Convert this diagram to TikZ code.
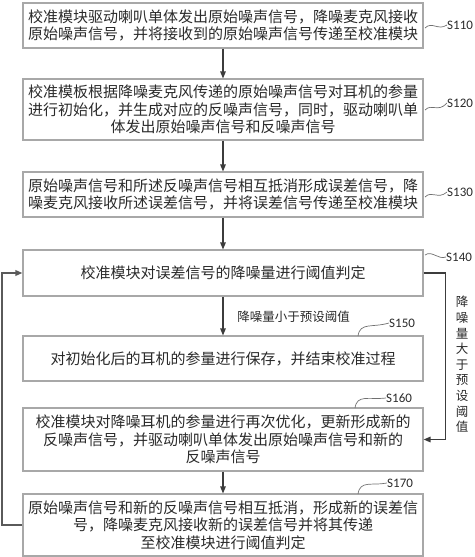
\documentclass[tikz,border=0pt]{standalone}
\usepackage{fontspec}
\usetikzlibrary{arrows.meta}
\newfontfamily\cjk{Noto Sans CJK SC}
\newfontfamily\labfont{Carlito}
\definecolor{boxgray}{HTML}{A8A8A8}
\definecolor{txt}{HTML}{2A2A2A}
\definecolor{linegray}{HTML}{3C3C3C}
\definecolor{loopgray}{HTML}{5A5A5A}
\definecolor{squiggray}{HTML}{707070}
\begin{document}
\begin{tikzpicture}[x=1pt,y=-1pt]
\useasboundingbox (0,0) rectangle (474,557);
\tikzset{
  stepbox/.style={draw=boxgray, line width=1.1pt, minimum width=400pt, inner sep=0pt,
    text=txt, align=center, font=\cjk\fontsize{15pt}{17.5pt}\selectfont},
  flow/.style={draw=linegray, line width=1.1pt, -{Triangle[length=7pt,width=5.5pt]}},
  loopline/.style={draw=loopgray, line width=2pt, -{Triangle[length=7pt,width=5.5pt]}},
  rloop/.style={draw=linegray, line width=1.4pt, -{Triangle[length=7pt,width=5.5pt]}},
  squig/.style={draw=squiggray, line width=0.7pt},
  slab/.style={font=\labfont\fontsize{13pt}{14pt}\selectfont, text=txt, anchor=west, inner sep=0pt},
  cond/.style={font=\cjk\fontsize{12.5pt}{15.6pt}\selectfont, text=txt, inner sep=0pt, align=center},
}
\node[stepbox, minimum height=45pt] (b1) at (223,25.5)
  {校准模块驱动喇叭单体发出原始噪声信号，降噪麦克风接收\\原始噪声信号，并将接收到的原始噪声信号传递至校准模块};
\node[stepbox, minimum height=61pt] (b2) at (223,109.5)
  {校准模板根据降噪麦克风传递的原始噪声信号对耳机的参量\\进行初始化，并生成对应的反噪声信号，同时，驱动喇叭单\\体发出原始噪声信号和反噪声信号};
\node[stepbox, minimum height=45pt] (b3) at (223,194.5)
  {原始噪声信号和所述反噪声信号相互抵消形成误差信号，降\\噪麦克风接收所述误差信号，并将误差信号传递至校准模块};
\node[stepbox, minimum height=46pt] (b4) at (223,273)
  {校准模块对误差信号的降噪量进行阈值判定};
\node[stepbox, minimum height=45pt] (b5) at (223,358.5)
  {对初始化后的耳机的参量进行保存，并结束校准过程};
\node[stepbox, minimum height=63pt] (b6) at (223,439.5)
  {校准模块对降噪耳机的参量进行再次优化，更新形成新的\\反噪声信号，并驱动喇叭单体发出原始噪声信号和新的\\反噪声信号};
\node[stepbox, minimum height=62pt] (b7) at (223,525)
  {原始噪声信号和新的反噪声信号相互抵消，形成新的误差信\\号，降噪麦克风接收新的误差信号并将其传递\\至校准模块进行阈值判定};

\draw[flow] (b1) -- (b2);
\draw[flow] (b2) -- (b3);
\draw[flow] (b3) -- (b4);
\draw[flow] (b4) -- (b5);
\draw[flow] (b6) -- (b7);

\node[cond] (c1) at (293.5,317) {降噪量小于预设阈值};

\draw[loopline] (b7.west) -- ++(-20,0) |- (b4.west);
\draw[rloop] (b4.east) -- ++(22,0) |- (b6.east);
\node[cond] (c2) at (462,364.5) {降\\噪\\量\\大\\于\\预\\设\\阈\\值};

% step labels
\node[slab] (s110) at (447,25) {S110};
\node[slab] (s120) at (447,103) {S120};
\node[slab] (s130) at (447,192) {S130};
\node[slab] (s140) at (446,257) {S140};
\node[slab] (s150) at (389,323) {S150};
\node[slab] (s160) at (386,398) {S160};
\node[slab] (s170) at (387,483) {S170};

\coordinate (q110) at (425,28);
\coordinate (q120) at (425,110);
\coordinate (q130) at (425,197);
\coordinate (q140) at (425,255);
\coordinate (q150) at (358,336);
\coordinate (q160) at (355,408);
\coordinate (q170) at (358,494);

\draw[squig] (q110) .. controls (432,21) and (438,31) .. (s110.west);
\draw[squig] (q120) .. controls (432,103) and (438,113) .. (s120.west);
\draw[squig] (q130) .. controls (432,190) and (438,200) .. (s130.west);
\draw[squig] (q140) .. controls (432,250) and (438,260) .. (s140.west);
\draw[squig] (q150) .. controls (360,322) and (372,328) .. (s150.west);
\draw[squig] (q160) .. controls (357,394) and (369,400) .. (s160.west);
\draw[squig] (q170) .. controls (360,480) and (372,486) .. (s170.west);
\end{tikzpicture}
\end{document}
